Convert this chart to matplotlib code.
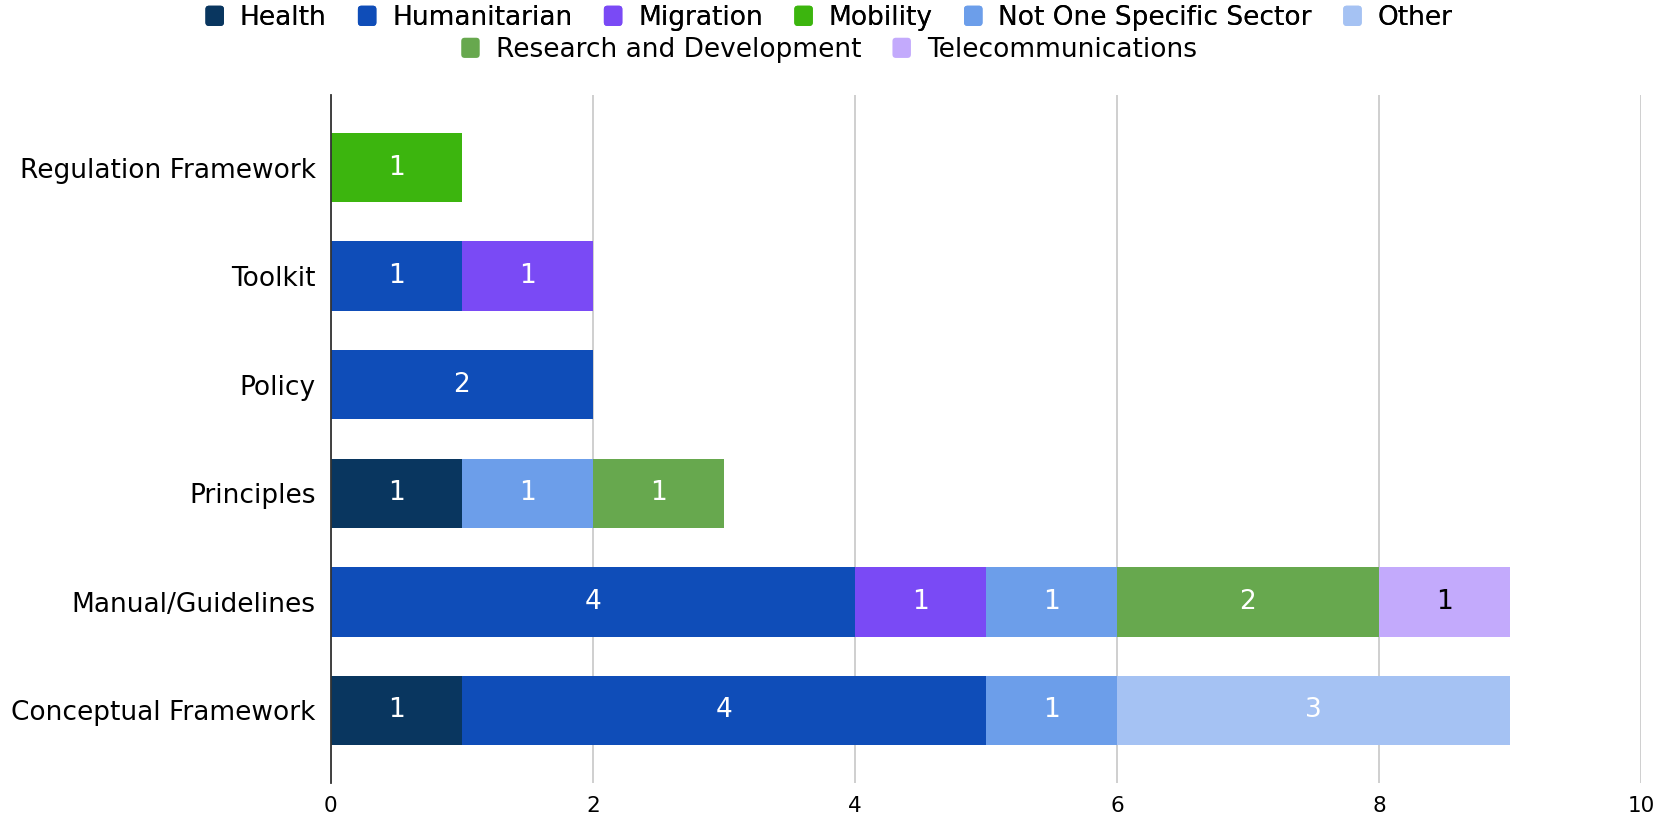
import matplotlib.pyplot as plt
import numpy as np
from matplotlib.legend_handler import HandlerPatch
from matplotlib.patches import FancyBboxPatch, Patch

plt.rcParams["font.family"] = ["DejaVu Sans"]

categories = ["Conceptual Framework", "Manual/Guidelines", "Principles",
              "Policy", "Toolkit", "Regulation Framework"]
sectors = ["Health", "Humanitarian", "Migration", "Mobility",
           "Not One Specific Sector", "Other", "Research and Development",
           "Telecommunications"]
# counts per sector, one value per category (same order as categories)
health = [1, 0, 1, 0, 0, 0]
humanitarian = [4, 4, 0, 2, 1, 0]
migration = [0, 1, 0, 0, 1, 0]
mobility = [0, 0, 0, 0, 0, 1]
not_specific = [1, 1, 1, 0, 0, 0]
other = [3, 0, 0, 0, 0, 0]
research = [0, 2, 1, 0, 0, 0]
telecom = [0, 1, 0, 0, 0, 0]

series = [health, humanitarian, migration, mobility, not_specific, other,
          research, telecom]
colors = ["#09365f", "#0f4db8", "#7a4af5", "#3cb50e", "#6c9eea", "#a5c2f3",
          "#67a84e", "#c3aafc"]
label_colors = ["white"] * 7 + ["black"]


class RoundedHandle(HandlerPatch):
    def create_artists(self, legend, orig_handle, xdescent, ydescent,
                       width, height, fontsize, trans):
        box = FancyBboxPatch((-xdescent, -ydescent), width, height,
                             boxstyle="round,pad=0,rounding_size=2.5",
                             facecolor=orig_handle.get_facecolor(),
                             edgecolor="none", transform=trans)
        return [box]


fig = plt.figure(figsize=(16.58, 8.16), dpi=100)
ax = fig.add_axes([0.1996, 0.0404, 0.7901, 0.8432])

y = np.arange(len(categories))
left = np.zeros(len(categories))
for name, vals, col, tcol in zip(sectors, series, colors, label_colors):
    vals = np.array(vals, dtype=float)
    bars = ax.barh(y, vals, left=left, height=0.64, color=col, label=name,
                   edgecolor="none", zorder=3)
    for rect, v in zip(bars, vals):
        if v > 0:
            ax.text(rect.get_x() + rect.get_width() / 2,
                    rect.get_y() + rect.get_height() / 2, f"{int(v)}",
                    ha="center", va="center", color=tcol, fontsize=19,
                    zorder=4)
    left += vals

ax.set_xlim(0, 10)
ax.set_ylim(-0.67, len(categories) - 0.33)
ax.set_xticks(range(0, 11, 2))
ax.set_yticks(y)
ax.set_yticklabels(categories, fontsize=19)
ax.tick_params(axis="x", labelsize=15.5, length=0, pad=9)
ax.tick_params(axis="y", length=0, pad=11)
ax.grid(axis="x", color="#cccccc", linewidth=1.3, zorder=0)
for side in ["top", "right", "bottom"]:
    ax.spines[side].set_visible(False)
ax.spines["left"].set_color("#333333")
ax.spines["left"].set_linewidth(1.3)
ax.spines["left"].set_zorder(5)

handles = [Patch(facecolor=c, label=s) for c, s in zip(colors, sectors)]
legend_style = dict(frameon=False, fontsize=19, handlelength=0.7,
                    handleheight=0.8, handletextpad=0.6, columnspacing=1.19,
                    borderaxespad=0, borderpad=0,
                    handler_map={Patch: RoundedHandle()})
row1 = fig.legend(handles[:6], sectors[:6], loc="center", ncol=6,
                  bbox_to_anchor=(0.5, 1 - 18 / 816), **legend_style)
fig.add_artist(row1)
fig.legend(handles[6:], sectors[6:], loc="center", ncol=2,
           bbox_to_anchor=(0.5, 1 - 50 / 816), **legend_style)

fig.savefig("out.png", dpi=100)
plt.close(fig)
